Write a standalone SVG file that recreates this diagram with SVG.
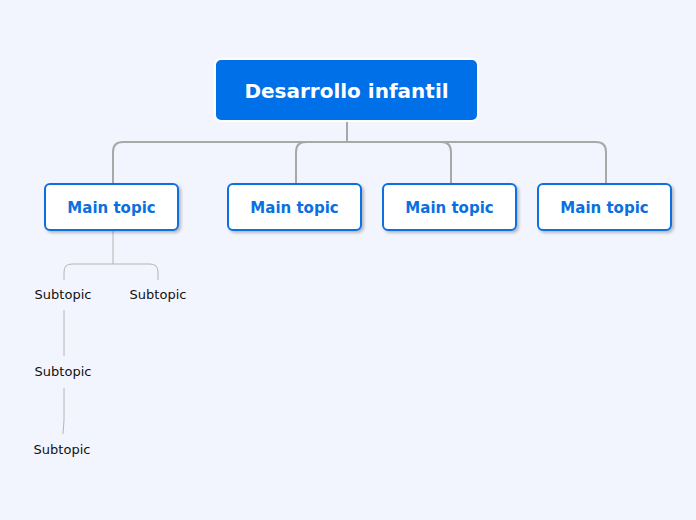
<svg xmlns="http://www.w3.org/2000/svg" width="696" height="520" viewBox="0 0 696 520">
<style>
.main rect{fill:#fff;stroke:#0a6fe0;stroke-width:2;filter:url(#sh)}
.main text{fill:#0a6fe0;font:bold 15px "DejaVu Sans",sans-serif;text-anchor:middle}
.sub text{fill:#111;font:13px "DejaVu Sans",sans-serif;text-anchor:middle}
.c1{fill:none;stroke:#a8a8a8;stroke-width:2}
.c2{fill:none;stroke:#b4b4b4;stroke-width:1}
</style>
<defs><filter id="sh" x="-10%" y="-20%" width="130%" height="150%"><feDropShadow dx="2" dy="2" stdDeviation="1.5" flood-color="#000" flood-opacity="0.25"/></filter></defs>
<rect width="696" height="520" fill="#f2f5fe"/>
<g id="connectors">
<path class="c1" d="M347 121V142M123 142H596M113 184V152Q113 142 123 142M296 184V152Q296 142 306 142H441Q451 142 451 152V184M596 142Q606 142 606 152V184"/>
<path class="c2" d="M113 230V264M64 280V272Q64 264 72 264H150Q158 264 158 272V280M64 310V356M64 388V420L63 434"/>
</g>
<g id="root"><rect x="215" y="59" width="263" height="62" rx="6" fill="#0070e8" stroke="#fff" stroke-width="2"/><text x="346.5" y="98" fill="#fff" font-family="DejaVu Sans,sans-serif" font-weight="bold" font-size="20" text-anchor="middle">Desarrollo infantil</text></g>
<g id="m1" class="main"><rect x="45" y="184" width="133" height="46" rx="5"/><text x="111.5" y="213">Main topic</text></g>
<g id="m2" class="main"><rect x="228" y="184" width="133" height="46" rx="5"/><text x="294.5" y="213">Main topic</text></g>
<g id="m3" class="main"><rect x="383" y="184" width="133" height="46" rx="5"/><text x="449.5" y="213">Main topic</text></g>
<g id="m4" class="main"><rect x="538" y="184" width="133" height="46" rx="5"/><text x="604.5" y="213">Main topic</text></g>
<g id="s1" class="sub"><text x="63" y="299">Subtopic</text></g>
<g id="s2" class="sub"><text x="158" y="299">Subtopic</text></g>
<g id="s3" class="sub"><text x="63" y="376">Subtopic</text></g>
<g id="s4" class="sub"><text x="62" y="454">Subtopic</text></g>
</svg>
